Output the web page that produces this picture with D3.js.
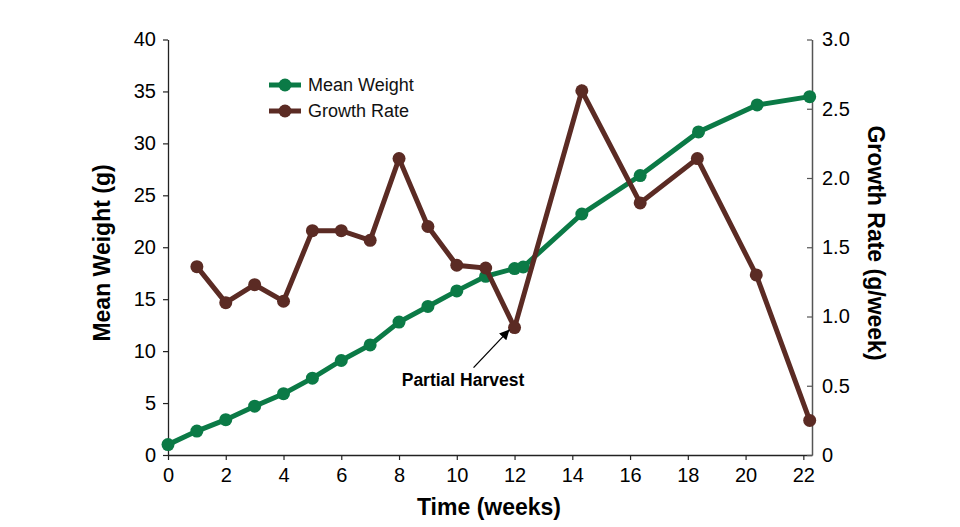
<!DOCTYPE html>
<html>
<head>
<meta charset="utf-8">
<script src="https://cdn.jsdelivr.net/npm/d3@7"></script>
<style>
  body { margin: 0; background: #fff; }
  text { font-family: "Liberation Sans", Arial, sans-serif; }
</style>
</head>
<body>
<div id="chart"></div>
<script>
// data
var weightWeeks = [0, 1, 2, 3, 4, 5, 6, 7, 8, 9, 10, 11, 12, 12.3, 14.33, 16.35, 18.37, 20.4, 22.22];
var weightValues = [1.0, 2.3, 3.4, 4.7, 5.9, 7.4, 9.1, 10.6, 12.8, 14.3, 15.8, 17.2, 17.95, 18.1, 23.2, 26.9, 31.1, 33.7, 34.5];
var rateWeeks = [1, 2, 3, 4, 5, 6, 7, 8, 9, 10, 11, 12, 14.33, 16.35, 18.33, 20.37, 22.22];
var rateValues = [1.36, 1.10, 1.23, 1.11, 1.62, 1.62, 1.55, 2.14, 1.65, 1.37, 1.35, 0.92, 2.63, 1.82, 2.14, 1.30, 0.25];
var xTicks = [0, 2, 4, 6, 8, 10, 12, 14, 16, 18, 20, 22];
var leftTicks = [0, 5, 10, 15, 20, 25, 30, 35, 40];
var rightTicks = [0, 0.5, 1.0, 1.5, 2.0, 2.5, 3.0];

var green = "#0b7a46", brown = "#5b2b24";

var svg = d3.select("#chart")
  .append("svg")
    .attr("width", 960)
    .attr("height", 527);

// scales
var x = d3.scaleLinear().domain([0, 22.3]).range([168, 812]);
var yL = d3.scaleLinear().domain([0, 40]).range([455, 39.5]);
var yR = d3.scaleLinear().domain([0, 3]).range([455, 39.5]);

// axes
var xAxis = svg.append("g")
  .attr("transform", "translate(0,455)")
  .call(d3.axisBottom(x).tickValues(xTicks).tickSize(5).tickSizeOuter(0));
xAxis.select(".domain").attr("stroke", "#222").attr("stroke-width", 1.3);
xAxis.selectAll(".tick line").attr("stroke", "#222").attr("stroke-width", 1.2);
xAxis.selectAll("text").attr("font-size", 20).attr("fill", "#000").attr("dy", "0.95em");

var leftAxis = svg.append("g")
  .attr("transform", "translate(168,0)")
  .call(d3.axisLeft(yL).tickValues(leftTicks).tickSize(5).tickSizeOuter(0));
leftAxis.select(".domain").attr("stroke", "#222").attr("stroke-width", 1.3);
leftAxis.selectAll(".tick line").attr("stroke", "#222").attr("stroke-width", 1.2);
leftAxis.selectAll("text").attr("font-size", 20).attr("fill", "#000").attr("x", -12);

var rightAxis = svg.append("g")
  .attr("transform", "translate(812,0)")
  .call(d3.axisRight(yR).tickValues(rightTicks).tickSize(-5).tickSizeOuter(0)
    .tickFormat(function(d) { return d === 0 ? "0" : d3.format(".1f")(d); }));
rightAxis.select(".domain").attr("stroke", "#555").attr("stroke-width", 1.5);
rightAxis.selectAll(".tick line").attr("stroke", "#555").attr("stroke-width", 1.2);
rightAxis.selectAll("text").attr("font-size", 20).attr("fill", "#000").attr("x", 10);

// axis titles
svg.append("text")
  .attr("x", 489).attr("y", 515)
  .attr("text-anchor", "middle")
  .attr("font-size", 23).attr("font-weight", "bold")
  .text("Time (weeks)");

svg.append("text")
  .attr("transform", "translate(110,253) rotate(-90)")
  .attr("text-anchor", "middle")
  .attr("font-size", 23).attr("font-weight", "bold")
  .text("Mean Weight (g)");

svg.append("text")
  .attr("transform", "translate(868,243) rotate(90)")
  .attr("text-anchor", "middle")
  .attr("font-size", 23).attr("font-weight", "bold")
  .text("Growth Rate (g/week)");

// series
var weightData = weightWeeks.map(function(w, i) { return {x: w, y: weightValues[i]}; });
var rateData = rateWeeks.map(function(w, i) { return {x: w, y: rateValues[i]}; });

svg.append("path")
  .datum(weightData)
  .attr("fill", "none")
  .attr("stroke", green)
  .attr("stroke-width", 5)
  .attr("d", d3.line().x(function(d) { return x(d.x); }).y(function(d) { return yL(d.y); }));
svg.selectAll(".wdot")
  .data(weightData)
  .enter().append("circle")
    .attr("class", "wdot")
    .attr("cx", function(d) { return x(d.x); })
    .attr("cy", function(d) { return yL(d.y); })
    .attr("r", 6.5)
    .attr("fill", green);

svg.append("path")
  .datum(rateData)
  .attr("fill", "none")
  .attr("stroke", brown)
  .attr("stroke-width", 5)
  .attr("d", d3.line().x(function(d) { return x(d.x); }).y(function(d) { return yR(d.y); }));
svg.selectAll(".rdot")
  .data(rateData)
  .enter().append("circle")
    .attr("class", "rdot")
    .attr("cx", function(d) { return x(d.x); })
    .attr("cy", function(d) { return yR(d.y); })
    .attr("r", 6.5)
    .attr("fill", brown);

// legend
var legend = [{name: "Mean Weight", color: green}, {name: "Growth Rate", color: brown}];
var lg = svg.selectAll(".legend")
  .data(legend)
  .enter().append("g")
    .attr("transform", function(d, i) { return "translate(269," + (85 + i * 26) + ")"; });
lg.append("line")
  .attr("x1", 0).attr("x2", 32)
  .attr("stroke", function(d) { return d.color; })
  .attr("stroke-width", 5);
lg.append("circle")
  .attr("cx", 16).attr("r", 6.5)
  .attr("fill", function(d) { return d.color; });
lg.append("text")
  .attr("x", 39).attr("dy", "0.35em")
  .attr("font-size", 18)
  .attr("fill", "#111")
  .text(function(d) { return d.name; });

// annotation: partial harvest at week 12
svg.append("defs").append("marker")
  .attr("id", "arrow")
  .attr("viewBox", "0 0 10 10")
  .attr("refX", 10).attr("refY", 5)
  .attr("markerWidth", 10).attr("markerHeight", 10)
  .attr("markerUnits", "userSpaceOnUse")
  .attr("orient", "auto")
  .append("path")
    .attr("d", "M0,0L10,5L0,10Z")
    .attr("fill", "#000");

var hx = x(12), hy = yR(0.92);
svg.append("line")
  .attr("x1", hx - 41).attr("y1", hy + 40)
  .attr("x2", hx - 5).attr("y2", hy + 2)
  .attr("stroke", "#000")
  .attr("stroke-width", 1.3)
  .attr("marker-end", "url(#arrow)");
svg.append("text")
  .attr("x", 463).attr("y", 386)
  .attr("text-anchor", "middle")
  .attr("font-size", 17.5).attr("font-weight", "bold")
  .text("Partial Harvest");
</script>
</body>
</html>
